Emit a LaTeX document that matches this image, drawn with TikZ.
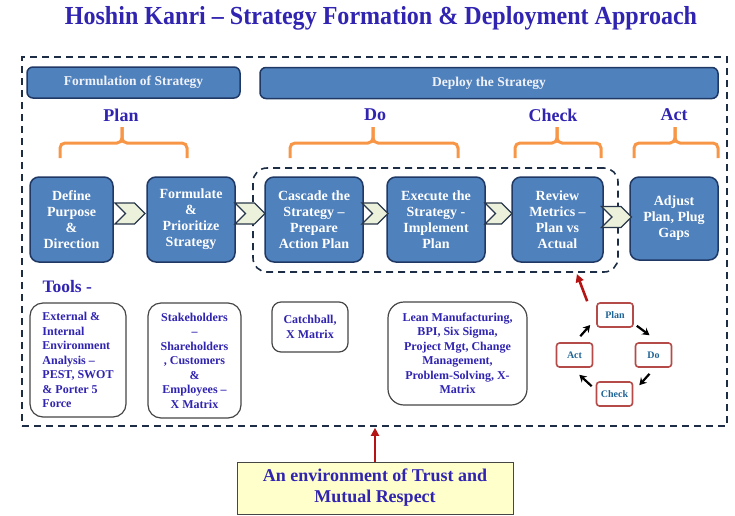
\documentclass[tikz,border=0pt]{standalone}
\usepackage{fontspec}
\setmainfont{Liberation Serif}
\usetikzlibrary{arrows.meta,shapes.symbols,calc}
\definecolor{hkblue}{RGB}{48,36,176}
\definecolor{boxfill}{RGB}{79,129,189}
\definecolor{boxline}{RGB}{31,56,100}
\definecolor{chevfill}{RGB}{235,241,218}
\definecolor{chevline}{RGB}{40,55,75}
\definecolor{dashline}{RGB}{30,45,70}
\definecolor{hkorange}{RGB}{247,150,70}
\definecolor{toolline}{RGB}{70,70,70}
\definecolor{pdline}{RGB}{180,75,72}
\definecolor{pdtext}{RGB}{31,100,150}
\definecolor{hkred}{RGB}{180,20,20}
\definecolor{envfill}{RGB}{255,255,204}
\definecolor{headtext}{RGB}{240,242,250}
\tikzset{
  dashframe/.style={draw=dashline, line width=1.6pt, dash pattern=on 7pt off 5pt},
  header/.style={draw=boxline, line width=1.5pt, fill=boxfill, rounded corners=6pt, text=headtext, font=\fontsize{13.5}{16}\selectfont\bfseries, inner sep=0pt},
  stepbox/.style={draw=boxline, line width=1.5pt, fill=boxfill, rounded corners=9pt, text=white, align=center, font=\fontsize{14}{16}\selectfont\bfseries, inner sep=0pt},
  chev/.style={signal, signal from=west, signal to=east, draw=chevline, line width=1.3pt, fill=chevfill, minimum width=30pt, minimum height=21pt, inner sep=0pt},
  phase/.style={text=hkblue, font=\fontsize{18}{20}\selectfont\bfseries},
  obrace/.style={draw=hkorange, line width=3pt, rounded corners=5pt},
  toolbox/.style={draw=toolline, line width=1.2pt, fill=white, rounded corners=13pt, text=hkblue, font=\fontsize{12}{14.5}\selectfont\bfseries, inner sep=0pt},
  pdbox/.style={draw=pdline, line width=1.6pt, fill=white, rounded corners=3pt, text=pdtext, font=\fontsize{10}{12}\selectfont\bfseries, minimum width=36pt, minimum height=24pt, inner sep=0pt},
  pdarr/.style={draw=black, line width=2.2pt, -{Stealth[length=7pt,width=8pt]}},
  redarr/.style={draw=hkred, line width=2.6pt, -{Triangle[length=8pt,width=8pt]}},
}
\newcommand{\hkbrace}[3]{%
  \draw[obrace] (#1,158) -- (#1,143) -- (#2,143) -- (#2,127);
  \draw[obrace] (#3,158) -- (#3,143) -- (#2,143) -- (#2,127);}
\begin{document}
\begin{tikzpicture}[x=1pt,y=-1pt]
\useasboundingbox (0,0) rectangle (735,515);
% title
\node[text=hkblue, font=\fontsize{26}{30}\selectfont\bfseries, anchor=base, xscale=0.925, transform shape] (title) at (381,24) {Hoshin Kanri – Strategy Formation \& Deployment Approach};
% frames
\node[dashframe, minimum width=705pt, minimum height=369pt, inner sep=0pt] (frame) at (374.5,241.5) {};
\node[dashframe, rounded corners=14pt, minimum width=365pt, minimum height=104pt, inner sep=0pt] (dobox) at (435.5,220) {};
% headers
\node[header, minimum width=213pt, minimum height=31pt] (hform) at (133.5,82.5) {Formulation of Strategy};
\node[header, minimum width=458pt, minimum height=31pt] (hdeploy) at (489,83) {Deploy the Strategy};
% phase labels
\node[phase] (lplan) at (121,115) {Plan};
\node[phase] (ldo) at (375,115) {Do};
\node[phase] (lcheck) at (553,115) {Check};
\node[phase] (lact) at (674,115) {Act};
% braces
\hkbrace{60}{122}{187}
\hkbrace{290}{373}{458}
\hkbrace{515}{557}{601}
\hkbrace{634}{675}{718}
% step boxes
\node[stepbox, minimum width=83pt, minimum height=85pt] (s1) at (71.5,219.5) {Define\\Purpose\\\&\\Direction};
\node[stepbox, minimum width=88pt, minimum height=85pt] (s2) at (191,219.5) {Formulate\\\&\\Prioritize\\Strategy};
\node[stepbox, minimum width=98pt, minimum height=85pt] (s3) at (314,219.5) {Cascade the\\Strategy –\\Prepare\\Action Plan};
\node[stepbox, minimum width=98pt, minimum height=85pt] (s4) at (436,219.5) {Execute the\\Strategy -\\Implement\\Plan};
\node[stepbox, minimum width=91pt, minimum height=85pt] (s5) at (557.5,219.5) {Review\\Metrics –\\Plan vs\\Actual};
\node[stepbox, minimum width=88pt, minimum height=83pt] (s6) at (674,218.5) {Adjust\\Plan, Plug\\Gaps};
% chevrons
\node[chev] (c1) at ($(s1.east)!0.5!(s2.west)+(0,-6)$) {};
\node[chev] (c2) at ($(s2.east)!0.5!(s3.west)+(0,-6)$) {};
\node[chev, minimum width=26pt] (c3) at ($(s3.east)!0.5!(s4.west)+(0,-6)$) {};
\node[chev, minimum width=27pt] (c4) at ($(s4.east)!0.5!(s5.west)+(0,-6)$) {};
\node[chev] (c5) at ($(s5.east)!0.5!(s6.west)+(0,-2)$) {};
% tools
\node[text=hkblue, font=\fontsize{17.5}{20}\selectfont\bfseries, anchor=west] (tools) at (39,287) {Tools -};
\node[toolbox, minimum width=96pt, minimum height=114pt, align=left] (t1) at (78,360) {External \&\\Internal\\Environment\\Analysis –\\PEST, SWOT\\\& Porter 5\\Force};
\node[toolbox, minimum width=93pt, minimum height=115pt, align=center] (t2) at (194.5,360.5) {Stakeholders\\–\\Shareholders\\, Customers\\\&\\Employees –\\X Matrix};
\node[toolbox, minimum width=76pt, minimum height=50pt, align=center, rounded corners=9pt] (t3) at (310,327) {Catchball,\\X Matrix};
\node[toolbox, minimum width=139pt, minimum height=103pt, align=center, rounded corners=16pt] (t4) at (457.5,353.5) {Lean Manufacturing,\\BPI, Six Sigma,\\Project Mgt, Change\\Management,\\Problem-Solving, X-\\Matrix};
% PDCA cycle
\node[pdbox] (pplan) at (615,315) {Plan};
\node[pdbox] (pdo) at (653.5,355) {Do};
\node[pdbox] (pcheck) at (614.5,394) {Check};
\node[pdbox] (pact) at (574.5,355) {Act};
\draw[pdarr] ($(pplan.south east)+(3,-2)$) -- ($(pdo.north)+(-4,-7)$);
\draw[pdarr] ($(pdo.south)+(-4,6)$) -- ($(pcheck.north east)+(6,4)$);
\draw[pdarr] ($(pcheck.north west)+(-4,5)$) -- ($(pact.south east)+(-14,7)$);
\draw[pdarr] ($(pact.north east)+(-13,-6)$) -- ($(pplan.west)+(-6,10)$);
\draw[redarr, shorten >=2pt] ($(pplan.north west)+(-9,-1)$) -- ($(pplan.north west)+(-20,-30)$ |- dobox.south);
% environment box
\node[draw=toolline, line width=1pt, fill=envfill, text=hkblue, align=center, font=\fontsize{18}{21}\selectfont\bfseries, minimum width=276pt, minimum height=52pt, inner sep=0pt] (env) at (375,488) {An environment of Trust and\\Mutual Respect};
\draw[redarr, shorten >=1pt] (env.north) -- (env.north |- frame.south);
\end{tikzpicture}
\end{document}
